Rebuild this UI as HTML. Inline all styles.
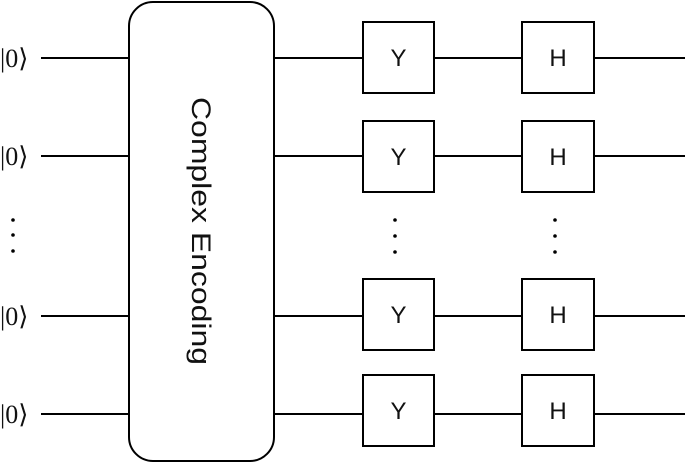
<!DOCTYPE html>
<html><head><meta charset="utf-8"><style>html,body{margin:0;padding:0;background:#fff}svg{display:block}</style></head>
<body>
<svg width="685" height="467" viewBox="0 0 685 467" xmlns="http://www.w3.org/2000/svg">
<g stroke="#000" stroke-width="2" fill="none">
<line x1="41" y1="58" x2="129" y2="58"/><line x1="41" y1="156" x2="129" y2="156"/>
<line x1="41" y1="316" x2="129" y2="316"/><line x1="41" y1="414" x2="129" y2="414"/>
<line x1="274" y1="58" x2="685" y2="58"/><line x1="274" y1="156" x2="685" y2="156"/>
<line x1="274" y1="316" x2="685" y2="316"/><line x1="274" y1="414" x2="685" y2="414"/>
<rect x="129" y="2" width="145" height="459" rx="24" fill="#fff"/>
<rect x="363" y="22" width="71" height="71" fill="#fff"/>
<rect x="363" y="121" width="71" height="71" fill="#fff"/>
<rect x="363" y="279" width="71" height="71" fill="#fff"/>
<rect x="363" y="375" width="71" height="71" fill="#fff"/>
<rect x="522" y="22" width="72" height="71" fill="#fff"/>
<rect x="522" y="121" width="72" height="71" fill="#fff"/>
<rect x="522" y="279" width="72" height="71" fill="#fff"/>
<rect x="522" y="375" width="72" height="71" fill="#fff"/>
</g>
<g fill="#000">
<circle cx="395" cy="220" r="1.8"/><circle cx="395" cy="236" r="1.8"/><circle cx="395" cy="252" r="1.8"/>
<circle cx="555" cy="220" r="1.8"/><circle cx="555" cy="236" r="1.8"/><circle cx="555" cy="252" r="1.8"/>
<circle cx="13" cy="220" r="1.8"/><circle cx="13" cy="235" r="1.8"/><circle cx="13" cy="251" r="1.8"/>
</g>
<g font-family="Liberation Sans, sans-serif" font-size="24" fill="#111" text-anchor="middle">
<text x="398.5" y="66">Y</text><text x="398.5" y="165">Y</text><text x="398.5" y="323">Y</text><text x="398.5" y="419">Y</text>
<text x="558" y="66">H</text><text x="558" y="165">H</text><text x="558" y="323">H</text><text x="558" y="419">H</text>
<text transform="translate(192,231) rotate(90)" font-size="27" textLength="268" lengthAdjust="spacingAndGlyphs">Complex Encoding</text>
</g>
<g font-family="Liberation Serif, serif" font-size="26" fill="#111">
<text x="0" y="67">|0⟩</text><text x="0" y="165">|0⟩</text><text x="0" y="325">|0⟩</text><text x="0" y="423">|0⟩</text>
</g>
</svg>
</body></html>
